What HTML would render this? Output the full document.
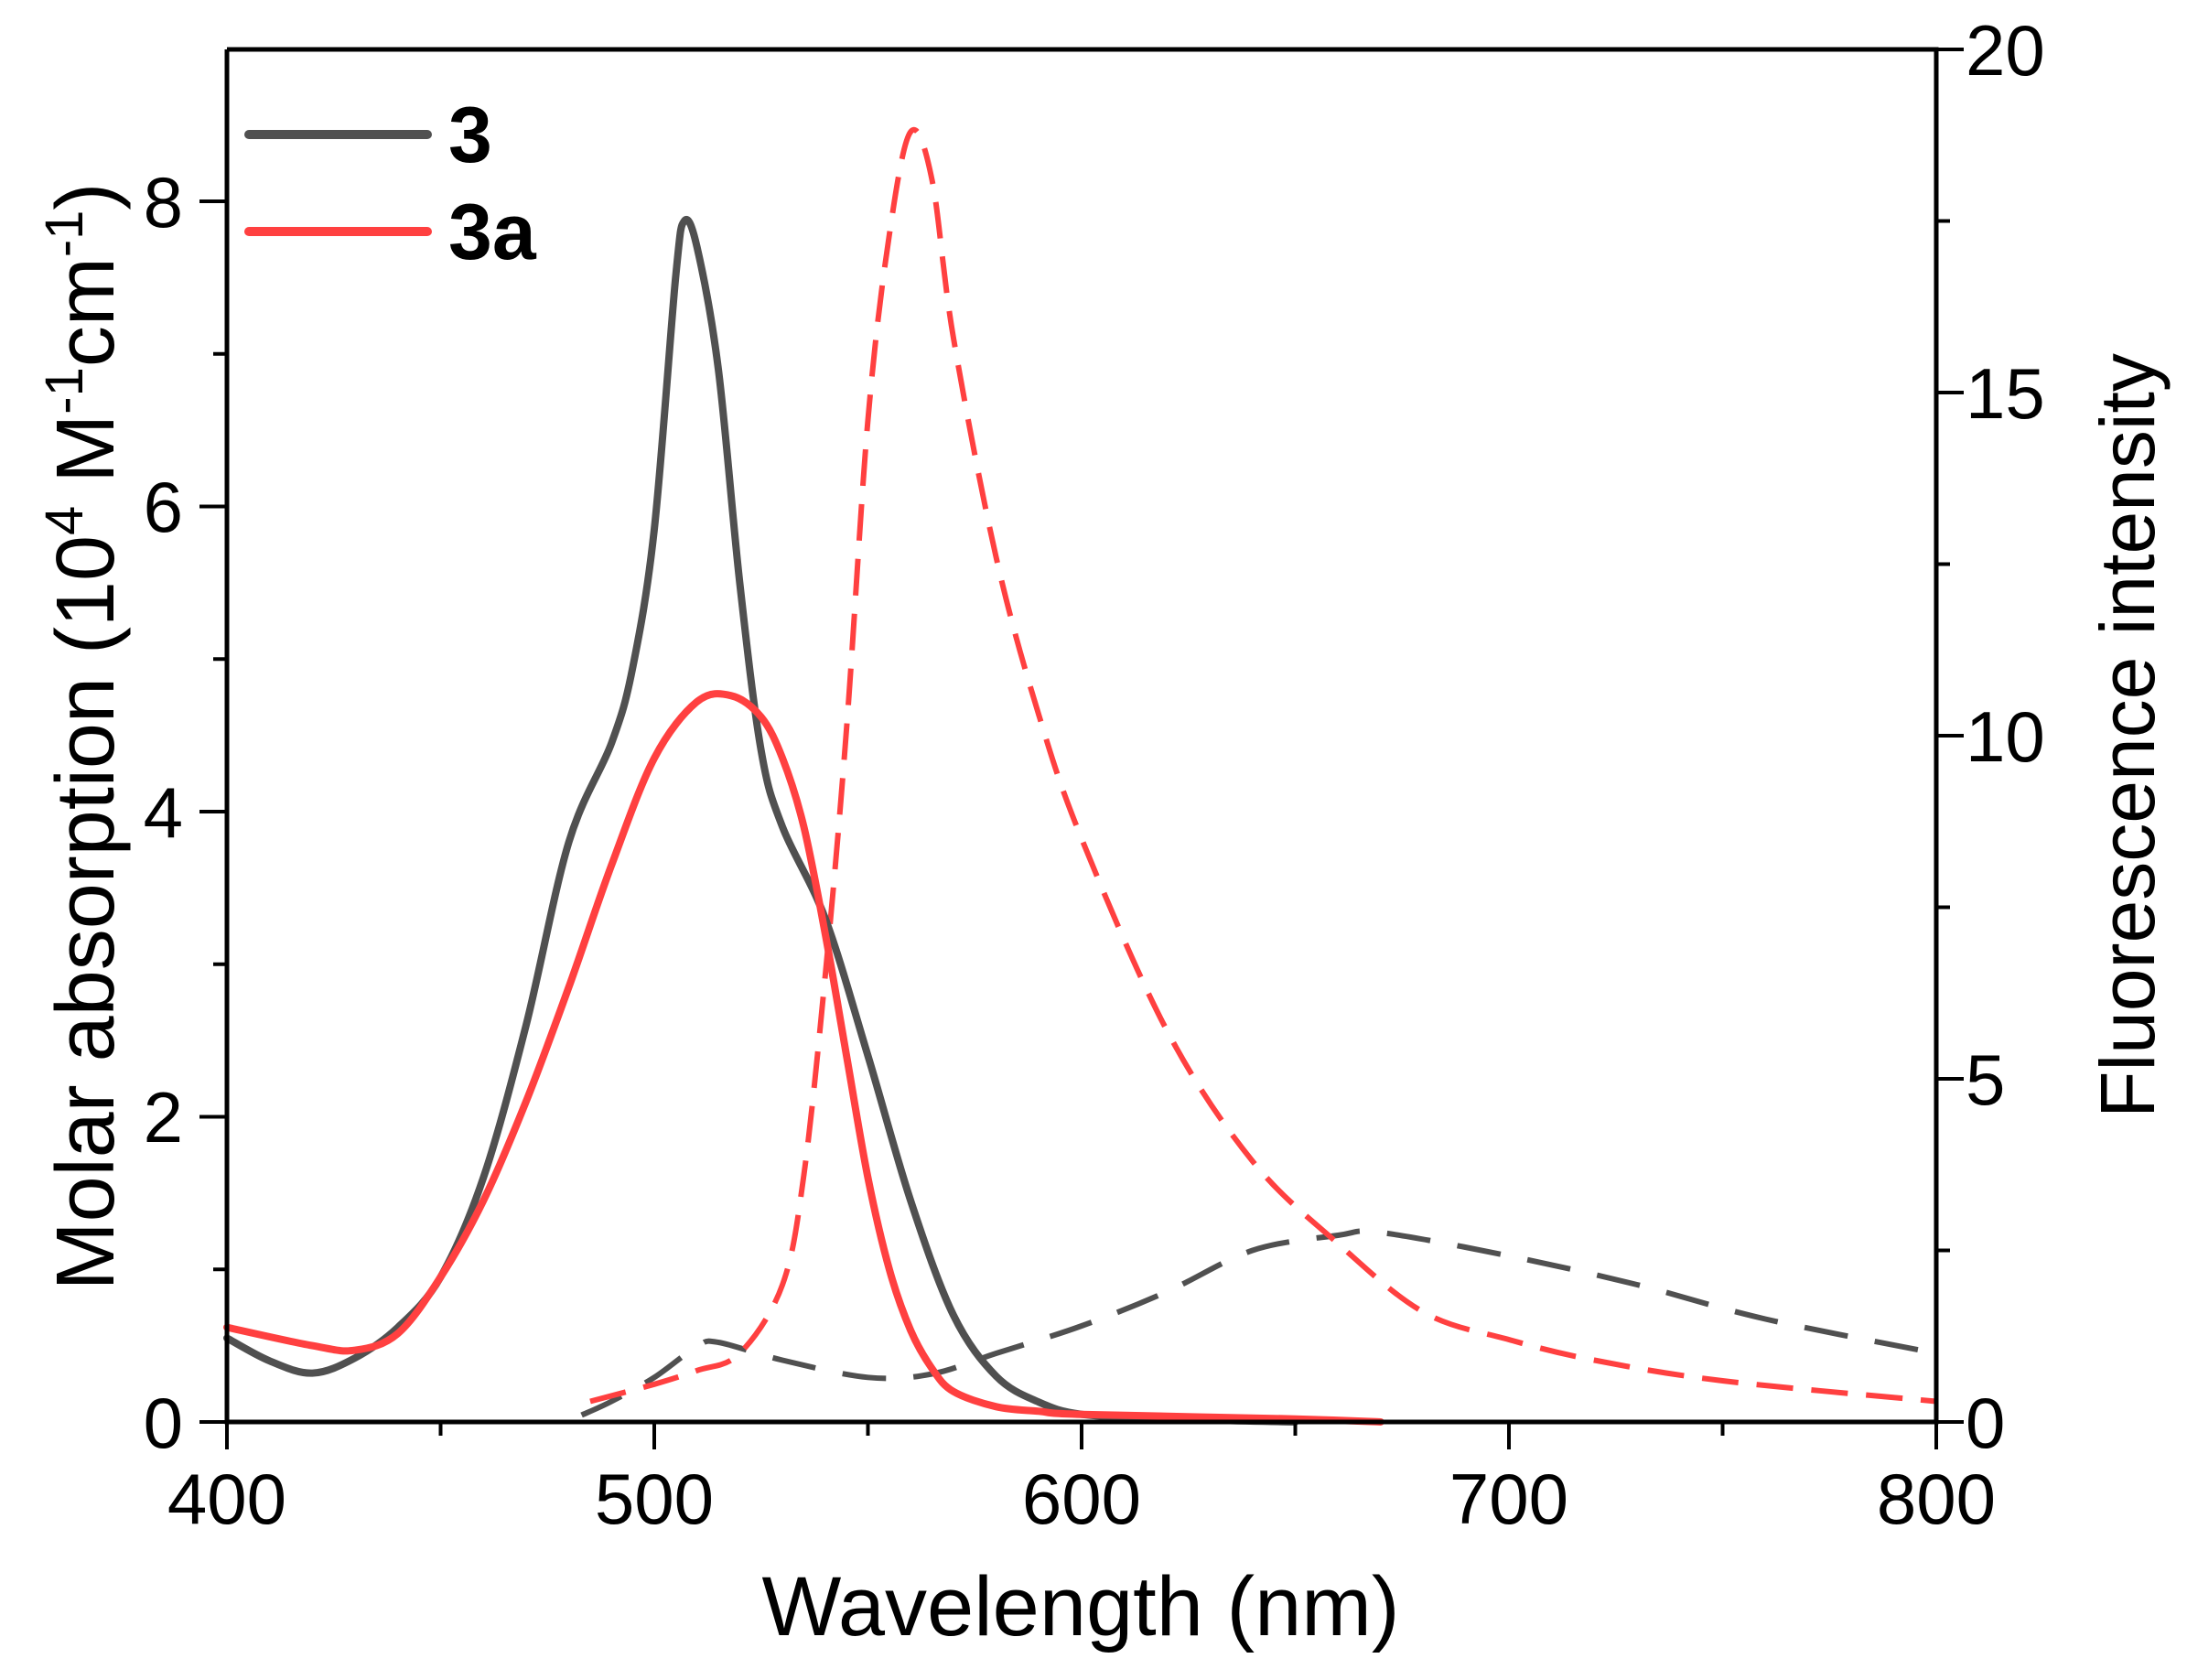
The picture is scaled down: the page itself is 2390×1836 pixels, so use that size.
<!DOCTYPE html>
<html><head><meta charset="utf-8"><style>
html,body{margin:0;padding:0;background:#fff;}
svg{display:block;font-family:"Liberation Sans",sans-serif;}
</style></head><body>
<svg id="s" width="2390" height="1836" viewBox="0 0 2390 1836" xmlns="http://www.w3.org/2000/svg">
<g id="curves" fill="none" stroke-linejoin="round" stroke-linecap="round"></g>
<g stroke="#000" stroke-width="5" fill="none">
<path d="M248,54 V1554 H2116 V54 H248"/>
</g>
<g id="ticks" stroke="#000" stroke-width="4"></g>
<g font-size="78" fill="#000">
<text x="248" y="1665" text-anchor="middle">400</text>
<text x="715" y="1665" text-anchor="middle">500</text>
<text x="1182" y="1665" text-anchor="middle">600</text>
<text x="1649" y="1665" text-anchor="middle">700</text>
<text x="2116" y="1665" text-anchor="middle">800</text>
<g text-anchor="end">
<text x="200" y="1582">0</text>
<text x="200" y="1248">2</text>
<text x="200" y="915">4</text>
<text x="200" y="581">6</text>
<text x="200" y="248">8</text>
</g>
<g text-anchor="start">
<text x="2148" y="1582">0</text>
<text x="2148" y="1207">5</text>
<text x="2148" y="832">10</text>
<text x="2148" y="457">15</text>
<text x="2148" y="82">20</text>
</g>
</g>
<text x="1181" y="1787" font-size="92" text-anchor="middle">Wavelength (nm)</text>
<text transform="translate(124,805) rotate(-90)" font-size="90" text-anchor="middle">Molar absorption (10<tspan font-size="58" dy="-34">4</tspan><tspan dy="34"> M</tspan><tspan font-size="58" dy="-34">-1</tspan><tspan dy="34">cm</tspan><tspan font-size="58" dy="-34">-1</tspan><tspan dy="34">)</tspan></text>
<text transform="translate(2354,804) rotate(-90)" font-size="84" text-anchor="middle">Fluorescence intensity</text>
<line x1="272" y1="147" x2="467" y2="147" stroke="#505050" stroke-width="10" stroke-linecap="round"/>
<line x1="272" y1="253" x2="467" y2="253" stroke="#ff4040" stroke-width="10" stroke-linecap="round"/>
<text x="490" y="177" font-size="86" font-weight="bold">3</text>
<text x="490" y="283" font-size="86" font-weight="bold">3a</text>
</svg>
<script>
const X=l=>248+(l-400)*4.67, YL=v=>1554-v*166.75, YR=v=>1554-v*75;
function path(pts,fy){
  const P=pts.map(p=>[X(p[0]),fy(p[1])]);
  let d="M"+P[0][0].toFixed(1)+","+P[0][1].toFixed(1);
  for(let i=0;i<P.length-1;i++){
    const p0=P[Math.max(0,i-1)],p1=P[i],p2=P[i+1],p3=P[Math.min(P.length-1,i+2)];
    const c1=[p1[0]+(p2[0]-p0[0])/6,p1[1]+(p2[1]-p0[1])/6];
    const c2=[p2[0]-(p3[0]-p1[0])/6,p2[1]-(p3[1]-p1[1])/6];
    d+=" C"+c1.map(v=>v.toFixed(1))+" "+c2.map(v=>v.toFixed(1))+" "+p2.map(v=>v.toFixed(1));
  }
  return d;
}
const g=document.getElementById("curves");
function add(pts,fy,col,w,dash){
  const e=document.createElementNS("http://www.w3.org/2000/svg","path");
  e.setAttribute("d",path(pts,fy));e.setAttribute("stroke",col);e.setAttribute("stroke-width",w);
  if(dash)e.setAttribute("stroke-dasharray",dash);
  e.setAttribute("stroke-linecap",dash?"butt":"round");
  g.appendChild(e);
}
const redF=[[485,0.3],[500,0.55],[510,0.75],[520,1.0],[530,2.0],[535,3.6],[540,6.5],[545,10.1],[550,14.6],[555,17.3],[560,18.8],[565,18.1],[570,15.8],[580,12.6],[590,10.3],[600,8.5],[620,5.7],[640,3.8],[660,2.6],[680,1.6],[700,1.2],[720,0.9],[750,0.6],[800,0.3]];
const grayF=[[483,0.1],[490,0.3],[500,0.65],[510,1.1],[515,1.16],[530,0.9],[550,0.65],[565,0.7],[580,1.0],[600,1.4],[620,1.9],[640,2.5],[660,2.72],[670,2.76],[700,2.42],[730,2.0],[760,1.5],[800,1.0]];
const grayA=[[400,0.55],[410,0.4],[420,0.32],[430,0.42],[440,0.62],[450,0.95],[460,1.6],[470,2.6],[480,3.8],[490,4.45],[495,4.95],[500,5.85],[505,7.5],[507,7.87],[510,7.7],[515,6.9],[520,5.5],[525,4.4],[530,3.9],[540,3.3],[550,2.4],[560,1.45],[570,0.7],[580,0.3],[590,0.13],[600,0.05],[620,0.02],[650,0.0]];
const redA=[[400,0.62],[420,0.5],[430,0.47],[440,0.58],[450,0.95],[460,1.45],[470,2.1],[480,2.85],[490,3.65],[500,4.35],[510,4.72],[518,4.76],[525,4.62],[530,4.35],[535,3.9],[540,3.2],[545,2.4],[550,1.6],[555,1.0],[560,0.6],[565,0.35],[570,0.2],[580,0.1],[590,0.07],[600,0.05],[650,0.02],[670,0.0]];
add(grayF,YR,"#505050",6,"48 30");
add(redF,YR,"#ff4040",6,"40 20");
add(grayA,YL,"#505050",8);
add(redA,YL,"#ff4040",8);
const t=document.getElementById("ticks");let d="";
for(let l=400;l<=800;l+=50){const x=X(l);d+=`M${x},1554 v${l%100?15:30} `;}
for(let v=0;v<=8;v++){const y=YL(v);d+=`M248,${y} h${v%2?-15:-30} `;}
for(let v=0;v<=20;v+=2.5){const y=YR(v);d+=`M2116,${y} h${v%5?15:30} `;}
const e=document.createElementNS("http://www.w3.org/2000/svg","path");e.setAttribute("d",d);t.appendChild(e);
</script>
</body></html>
